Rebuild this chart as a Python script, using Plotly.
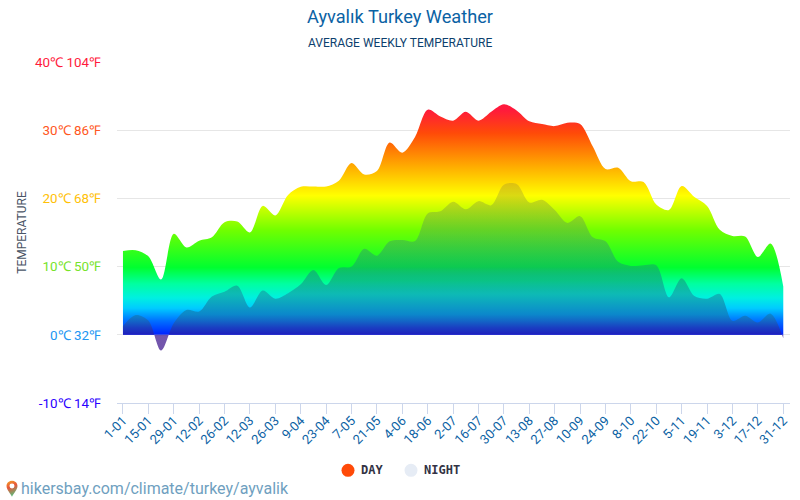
import base64
import plotly.graph_objects as go

weeks = list(range(53))
tick_labels = ["1-01","15-01","29-01","12-02","26-02","12-03","26-03","9-04","23-04","7-05","21-05","4-06","18-06",
               "2-07","16-07","30-07","13-08","27-08","10-09","24-09","8-10","22-10","5-11","19-11","3-12","17-12","31-12"]
day_temp = [12.3,12.4,11.5,8.1,14.8,12.8,13.8,14.3,16.5,16.6,15.0,18.9,17.5,20.5,21.7,21.75,21.75,22.6,25.2,23.5,24.0,28.2,26.7,29.0,
            33.0,32.0,31.4,32.7,31.4,32.7,33.8,32.9,31.3,30.9,30.6,31.1,30.9,27.6,24.3,24.5,22.5,22.4,19.1,18.3,21.8,20.2,18.9,15.4,14.5,14.4,11.4,13.4,7.1]
night_temp = [1.3,2.9,2.1,-2.3,1.7,3.65,3.4,5.6,6.3,7.2,4.0,6.5,5.3,6.1,7.4,9.5,7.3,9.8,10.0,12.6,11.6,13.7,13.9,13.75,
              17.8,18.1,19.5,18.4,19.6,19.0,22.0,22.1,19.4,19.8,18.3,16.4,17.4,14.3,13.7,10.7,10.1,10.2,10.2,5.5,8.3,5.7,5.3,6.0,2.05,2.8,1.8,3.1,-0.5]
y_ticks = [-10,0,10,20,30,40]
y_labels = ["-10℃ 14℉","0℃ 32℉","10℃ 50℉","20℃ 68℉","30℃ 86℉","40℃ 104℉"]
y_colors = ["#2a00ff","#2196f3","#76e32a","#ffc107","#ff5722","#ff1a3c"]
series_names = ["DAY","NIGHT"]
series_colors = ["#ff4a08","#e6ecf5"]

day_scale = [[0,"#0020ff"],[0.06,"#0070ff"],[0.115,"#00ccff"],[0.16,"#00f0e0"],[0.22,"#00ffa0"],[0.29,"#00ff30"],[0.45,"#70ff00"],
             [0.6,"#ffff00"],[0.72,"#ffb000"],[0.87,"#ff4a08"],[0.97,"#ff1a3c"],[1,"#ff1a3c"]]
night_scale = [[0,"rgba(60,20,140,0.72)"],[0.111,"rgba(60,20,140,0.72)"],[0.115,"rgba(32,30,185,0.95)"],[0.154,"rgba(28,60,190,0.95)"],
               [0.192,"rgba(20,100,195,0.95)"],[0.231,"rgba(12,135,200,0.95)"],[0.346,"rgba(16,176,176,0.85)"],[0.423,"rgba(17,155,127,0.6)"],
               [0.5,"rgba(40,80,160,0.3)"],[0.69,"rgba(50,30,200,0.2)"],[0.885,"rgba(0,0,130,0.15)"],[1,"rgba(0,0,130,0.12)"]]

W, H = 800, 500
L, R, T, B = 117, 10, 61.5, 96.5
PW, PH = W - L - R, H - T - B
def px(x): return (x - L) / PW
def py(y): return 1 - (y - T) / PH

pin_svg = ('<svg xmlns="http://www.w3.org/2000/svg" viewBox="0 0 12 17"><defs><linearGradient id="g" x1="0" y1="0" x2="0.3" y2="1">'
           '<stop offset="0" stop-color="#f5a623"/><stop offset="0.45" stop-color="#e8553a"/><stop offset="1" stop-color="#5fb878"/></linearGradient></defs>'
           '<path d="M6 0.5C2.8 0.5 0.5 2.8 0.5 5.8C0.5 9.5 4.5 13.5 6 16.5C7.5 13.5 11.5 9.5 11.5 5.8C11.5 2.8 9.2 0.5 6 0.5Z" fill="url(#g)"/>'
           '<circle cx="6" cy="5.8" r="2.5" fill="#fff"/></svg>')
pin_src = "data:image/svg+xml;base64," + base64.b64encode(pin_svg.encode()).decode()

fig = go.Figure()
fig.add_trace(go.Scatter(x=weeks, y=day_temp, name=series_names[0], mode="lines", line=dict(width=0, shape="spline", smoothing=0.9), fill="tozeroy",
    fillgradient=dict(type="vertical", colorscale=day_scale, start=0, stop=34), showlegend=False, hoverinfo="skip"))
fig.add_trace(go.Scatter(x=weeks, y=night_temp, name=series_names[1], mode="lines", line=dict(width=0, shape="spline", smoothing=0.9), fill="tozeroy",
    fillgradient=dict(type="vertical", colorscale=night_scale, start=-3, stop=23), showlegend=False, hoverinfo="skip"))

shapes = []
annotations = [
    dict(text="AVERAGE WEEKLY TEMPERATURE", xref="paper", yref="paper", x=px(400), y=py(42), yanchor="middle", showarrow=False, font=dict(size=12, color="#0d3f6e")),
    dict(text="hikersbay.com/climate/turkey/ayvalik", xref="paper", yref="paper", x=px(20), xanchor="left", xshift=-1.5, y=py(489), yanchor="middle", showarrow=False, font=dict(size=16, color="#6f9fc0")),
]
for name, col, mx in zip(series_names, series_colors, [348, 411]):
    shapes.append(dict(type="circle", xref="paper", yref="paper", xsizemode="pixel", ysizemode="pixel", xanchor=px(mx), yanchor=py(471),
                       x0=-6.5, x1=6.5, y0=-6.5, y1=6.5, fillcolor=col, line=dict(width=0)))
    annotations.append(dict(text=f"<b>{name}</b>", xref="paper", yref="paper", x=px(mx + 12), xanchor="left", xshift=-1, y=py(471), yanchor="middle", showarrow=False,
                            font=dict(family="DejaVu Sans Mono", size=12, color="#333344")))

fig.update_layout(
    width=W, height=H, margin=dict(l=L, r=R, t=T, b=B, autoexpand=False),
    paper_bgcolor="white", plot_bgcolor="white", font=dict(family="Roboto"),
    title=dict(text="Ayvalık Turkey Weather", x=0.5, xanchor="center", y=0.966, yanchor="middle", font=dict(size=18.2, color="#0b62a4")),
    xaxis=dict(range=[-0.47,52.53], tickmode="array", tickvals=weeks[::2], ticktext=tick_labels, tickangle=-45,
               tickfont=dict(size=13, color="#0b62a4"), ticks="outside", ticklen=10, tickcolor="#ccd6eb", ticklabelstandoff=-6,
               showline=True, linecolor="#ccd6eb", showgrid=False, zeroline=False),
    yaxis=dict(range=[-10,40], tickmode="array", tickvals=y_ticks,
               ticktext=[f'<span style="color:{c}">{t}</span>' for t,c in zip(y_labels,y_colors)],
               tickfont=dict(size=13.4), ticklabelstandoff=15, gridcolor="#e6e6e6", zeroline=False,
               title=dict(text="TEMPERATURE", font=dict(size=12, color="#4a5566"), standoff=5.5)),
    showlegend=False,
    annotations=annotations, shapes=shapes,
    images=[dict(source=pin_src, xref="paper", yref="paper", x=px(6), y=py(481), sizex=12/PW, sizey=17/PH, xanchor="left", yanchor="top", sizing="contain", layer="above")],
)
fig.write_html("out.html", config=dict(displayModeBar=False), post_script="document.body.style.margin='0'")
